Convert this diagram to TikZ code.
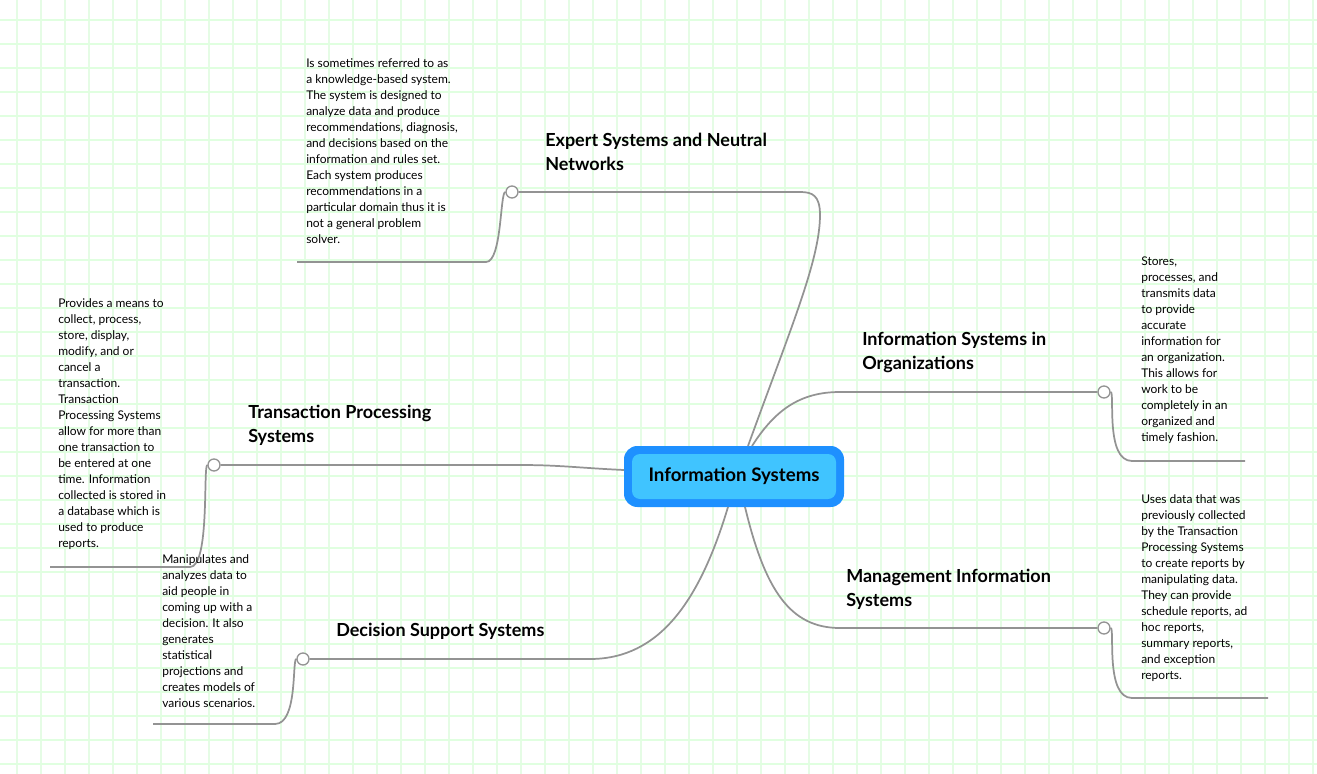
\documentclass[tikz,border=0pt]{standalone}
\usepackage{fontspec}
\setmainfont{Lato}
\begin{document}
\begin{tikzpicture}[x=0.75pt,y=-0.75pt,
  conn/.style={draw=gray!85,line width=1.3pt},
  dot/.style={circle,draw=gray!85,line width=1pt,fill=white,minimum size=9pt,inner sep=0pt},
  ttl/.style={anchor=north west,align=left,font=\bfseries\fontsize{13.5}{18}\selectfont,inner sep=0pt},
  body/.style={anchor=north west,align=left,font=\fontsize{9}{12}\selectfont,inner sep=0pt}]
\fill[white] (0,0) rectangle (1317,774);
\useasboundingbox (0,0) rectangle (1317,774);
\foreach \x in {17,41,...,1317} \draw[color=black!10!green!10!white,line width=0.8pt] (\x,0) -- (\x,774);
\foreach \y in {20,44,...,774} \draw[color=green!12!white,line width=0.8pt] (0,\y) -- (1317,\y);
% center
\node (c) [draw=blue!45!cyan!80!black!0,fill=cyan!70!blue!50,rounded corners=9pt] at (734,476)
  {}; 
\fill[rounded corners=10pt,fill={rgb,255:red,30;green,144;blue,255}] (624,446) rectangle (844,507);
\fill[rounded corners=6pt,fill={rgb,255:red,64;green,196;blue,255}] (632,454) rectangle (836,499);
\node (center) at (734,476) {\bfseries\fontsize{14}{18}\selectfont Information Systems};
\coordinate (ct) at (748,446);
\coordinate (ct2) at (752,446);
\coordinate (cb) at (745,507);
\coordinate (cb2) at (728,507);
\coordinate (cl) at (624,470);
% Expert
\node[dot] (d1) at (512,192) {};
\draw[conn] (ct) .. controls (790,330) and (820,260) .. (820,215) .. controls (820,195) and (812,192) .. (800,192) -- (d1);
\coordinate (e1) at (297,262);
\draw[conn] (d1) .. controls (500,192) and (502,262) .. (486,262) -- (e1);
\node[ttl] (t1) at (545,133) {Expert Systems and Neutral\\Networks};
\node[body] (b1) at (306,58) {Is sometimes referred to as\\a knowledge-based system.\\The system is designed to\\analyze data and produce\\recommendations, diagnosis,\\and decisions based on the\\information and rules set.\\Each system produces\\recommendations in a\\particular domain thus it is\\not a general problem\\solver.};
% Info Sys in Org
\node[dot] (d2) at (1104,392) {};
\draw[conn] (ct2) .. controls (775,410) and (800,392) .. (840,392) -- (d2);
\coordinate (e2) at (1245,461);
\draw[conn] (d2) .. controls (1115,392) and (1105,461) .. (1132,461) -- (e2);
\node[ttl] (t2) at (862,332) {Information Systems in\\Organizations};
\node[body] (b2) at (1141,257) {Stores,\\processes, and\\transmits data\\to provide\\accurate\\information for\\an organization.\\This allows for\\work to be\\completely in an\\organized and\\timely fashion.};
% Mgmt
\node[dot] (d3) at (1104,628) {};
\draw[conn] (cb) .. controls (765,590) and (790,628) .. (840,628) -- (d3);
\coordinate (e3) at (1268,698);
\draw[conn] (d3) .. controls (1115,628) and (1105,698) .. (1132,698) -- (e3);
\node[ttl] (t3) at (846,569) {Management Information\\Systems};
\node[body] (b3) at (1141,494) {Uses data that was\\previously collected\\by the Transaction\\Processing Systems\\to create reports by\\manipulating data.\\They can provide\\schedule reports, ad\\hoc reports,\\summary reports,\\and exception\\reports.};
% Transaction
\node[dot] (d4) at (214,465) {};
\draw[conn] (cl) .. controls (580,468) and (560,465) .. (520,465) -- (d4);
\coordinate (e4) at (50,567);
\draw[conn] (d4) .. controls (203,465) and (210,567) .. (190,567) -- (e4);
\node[ttl] (t4) at (248,405) {Transaction Processing\\Systems};
\node[body] (b4) at (58,298) {Provides a means to\\collect, process,\\store, display,\\modify, and or\\cancel a\\transaction.\\Transaction\\Processing Systems\\allow for more than\\one transaction to\\be entered at one\\time. Information\\collected is stored in\\a database which is\\used to produce\\reports.};
% Decision
\node[dot] (d5) at (303,659) {};
\draw[conn] (cb2) .. controls (700,600) and (660,659) .. (590,659) -- (d5);
\coordinate (e5) at (153,724);
\draw[conn] (d5) .. controls (292,659) and (298,724) .. (275,724) -- (e5);
\node[ttl] (t5) at (336,623) {Decision Support Systems};
\node[body] (b5) at (162,554) {Manipulates and\\analyzes data to\\aid people in\\coming up with a\\decision. It also\\generates\\statistical\\projections and\\creates models of\\various scenarios.};
\end{tikzpicture}
\end{document}
